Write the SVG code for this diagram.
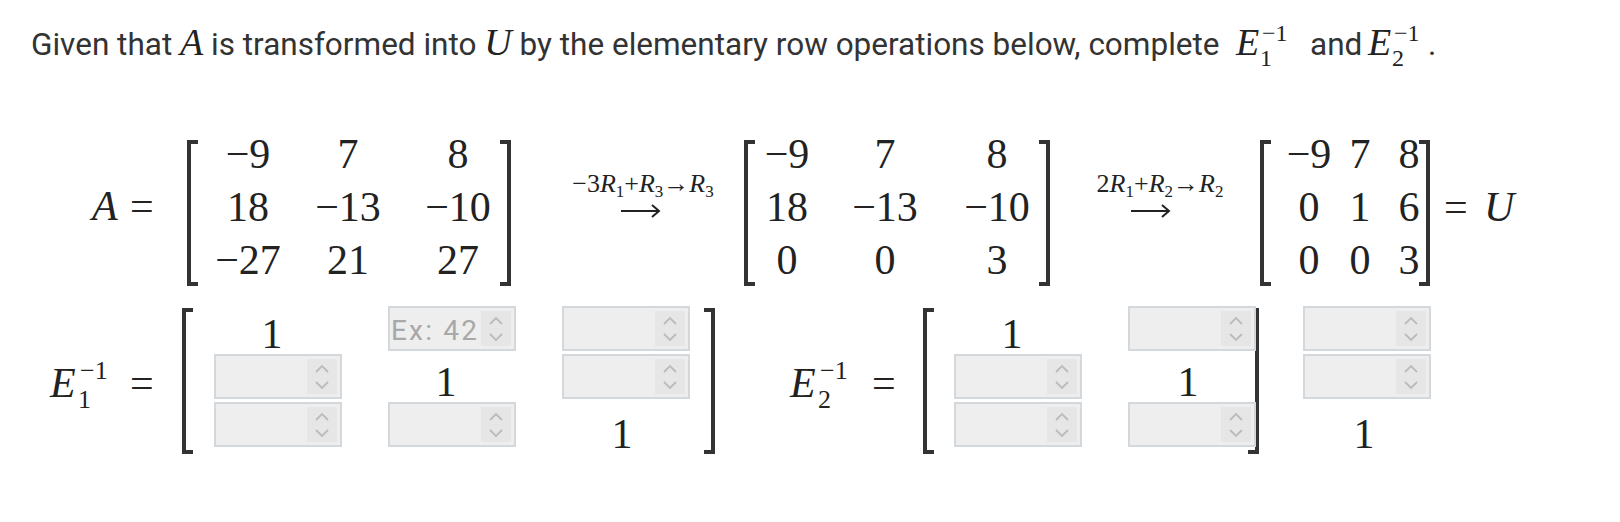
<svg xmlns="http://www.w3.org/2000/svg" width="1620" height="522" viewBox="0 0 1620 522">
<style>
.t{font-family:Roboto,"Liberation Sans",sans-serif;font-size:31.5px;fill:#333}
.m{font-family:"Liberation Serif","DejaVu Serif",serif;font-size:42px;fill:#222}
.mi{font-family:"Liberation Serif","DejaVu Serif",serif;font-size:42px;font-style:italic;fill:#222}
.s{font-family:"Liberation Serif",serif;font-size:26px;fill:#222}
.si{font-family:"Liberation Serif",serif;font-size:26px;font-style:italic;fill:#222}
.br{fill:none;stroke:#333;stroke-width:4}
.box{fill:#eeeeee;stroke:#d3d8dc;stroke-width:2}
.sp{fill:#e6e6e6}
.ch{fill:none;stroke:#b8bcc0;stroke-width:1.8}
.ph{font-family:Roboto,"Liberation Sans",sans-serif;font-size:28px;fill:#a8a8a8}
.tm{font-family:"Liberation Serif",serif;font-style:italic;font-size:38px;fill:#222}
.ts{font-family:"Liberation Serif",serif;font-size:24px;fill:#222}
</style>
<defs>
<g id="inp"><rect class="box" x="0" y="0" width="126" height="43"/><rect class="sp" x="92" y="4" width="30" height="35"/><path class="ch" d="M101 17l6-6 6 6M101 27l6 6 6-6"/></g>
</defs>
<g id="title">
<text class="t" x="31" y="55">Given that <tspan class="tm">A</tspan> is transformed into <tspan class="tm">U</tspan> by the elementary row operations below, complete</text>
<text class="tm" x="1236" y="55">E</text><text class="ts" x="1260" y="66">1</text><text class="ts" x="1262" y="41">−1</text>
<text class="t" x="1310" y="55">and</text>
<text class="tm" x="1368" y="55">E</text><text class="ts" x="1392" y="66">2</text><text class="ts" x="1394" y="41">−1</text>
<text class="t" x="1428" y="55">.</text>
</g>

<g id="matA">
<text class="mi" x="92" y="220">A</text><text class="m" x="130" y="220">=</text>
<path class="br" d="M198 142h-9v142h9M500 142h9v142h-9"/>
<g class="m" text-anchor="middle">
<text x="248" y="168">−9</text><text x="348" y="168">7</text><text x="458" y="168">8</text>
<text x="248" y="221">18</text><text x="348" y="221">−13</text><text x="458" y="221">−10</text>
<text x="248" y="274">−27</text><text x="348" y="274">21</text><text x="458" y="274">27</text>
</g></g>

<g id="matB">
<path class="br" d="M755 142h-9v142h9M1039 142h9v142h-9"/>
<g class="m" text-anchor="middle">
<text x="787" y="168">−9</text><text x="885" y="168">7</text><text x="997" y="168">8</text>
<text x="787" y="221">18</text><text x="885" y="221">−13</text><text x="997" y="221">−10</text>
<text x="787" y="274">0</text><text x="885" y="274">0</text><text x="997" y="274">3</text>
</g></g>

<g id="matU">
<path class="br" d="M1271 142h-9v142h9M1419 142h9v142h-9"/>
<g class="m" text-anchor="middle">
<text x="1309" y="168">−9</text><text x="1360" y="168">7</text><text x="1409" y="168">8</text>
<text x="1309" y="221">0</text><text x="1360" y="221">1</text><text x="1409" y="221">6</text>
<text x="1309" y="274">0</text><text x="1360" y="274">0</text><text x="1409" y="274">3</text>
</g>
<text class="m" x="1444" y="221">=</text><text class="mi" x="1484" y="221">U</text>
</g>

<g id="connectors">
<text class="s" x="643" y="192" text-anchor="middle">−3<tspan class="si">R</tspan><tspan font-size="17" dy="5">1</tspan><tspan dy="-5">+</tspan><tspan class="si">R</tspan><tspan font-size="17" dy="5">3</tspan><tspan dy="-5">→</tspan><tspan class="si">R</tspan><tspan font-size="17" dy="5">3</tspan></text>
<path d="M621 211h38M652 205l7 6-7 6" fill="none" stroke="#222" stroke-width="2"/>
<text class="s" x="1160" y="192" text-anchor="middle">2<tspan class="si">R</tspan><tspan font-size="17" dy="5">1</tspan><tspan dy="-5">+</tspan><tspan class="si">R</tspan><tspan font-size="17" dy="5">2</tspan><tspan dy="-5">→</tspan><tspan class="si">R</tspan><tspan font-size="17" dy="5">2</tspan></text>
<path d="M1131 211h38M1162 205l7 6-7 6" fill="none" stroke="#222" stroke-width="2"/>
</g>

<g id="E1">
<text class="mi" x="50" y="397">E</text><text class="s" font-size="28" x="78" y="408">1</text><text class="s" font-size="28" x="80" y="379">−1</text><text class="m" x="130" y="397">=</text>
<path class="br" d="M193 310h-9v142h9M704 310h9v142h-9"/>
<g class="m" text-anchor="middle"><text x="272" y="348">1</text><text x="446" y="396">1</text><text x="622" y="448">1</text></g>
<use href="#inp" x="215" y="355"/><use href="#inp" x="215" y="403"/>
<use href="#inp" x="389" y="307"/><text class="ph" x="391" y="340" textLength="86">Ex: 42</text>
<use href="#inp" x="389" y="403"/>
<use href="#inp" x="563" y="307"/><use href="#inp" x="563" y="355"/>
</g>

<g id="E2">
<text class="mi" x="790" y="397">E</text><text class="s" font-size="28" x="818" y="408">2</text><text class="s" font-size="28" x="820" y="379">−1</text><text class="m" x="872" y="397">=</text>
<path class="br" d="M934 310h-9v142h9M1248 310h9v142h-9"/>
<g class="m" text-anchor="middle"><text x="1012" y="348">1</text><text x="1188" y="396">1</text><text x="1364" y="448">1</text></g>
<use href="#inp" x="955" y="355"/><use href="#inp" x="955" y="403"/>
<use href="#inp" x="1129" y="307"/><use href="#inp" x="1129" y="403"/>
<use href="#inp" x="1304" y="307"/><use href="#inp" x="1304" y="355"/>
</g>
</svg>
